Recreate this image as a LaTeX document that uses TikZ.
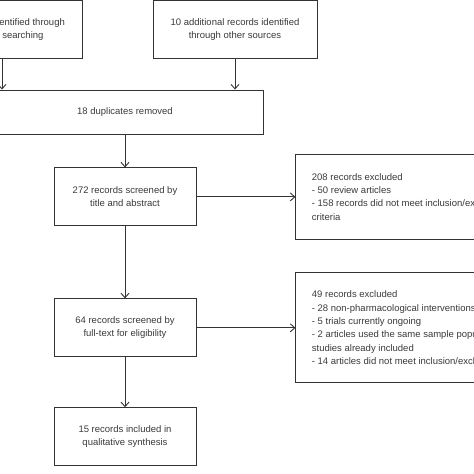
\documentclass[tikz,border=0pt]{standalone}
\usepackage{fontspec}
\setmainfont{Liberation Sans}
\usetikzlibrary{arrows.meta, positioning}
\definecolor{boxline}{HTML}{333333}
\definecolor{boxtext}{HTML}{3A3A3A}

\begin{document}
\begin{tikzpicture}[
			x = 1pt, y = 1pt,
			node distance = 30pt,
			>={Straight Barb[length=4.5pt,width=8pt]},
			block/.style = {draw=boxline, line width=0.9pt, rectangle, minimum height=58pt, minimum width=142pt, align=center, text=boxtext, font=\fontsize{9.5}{13.3}\selectfont, inner sep=0pt},
			srcblock/.style = {block, minimum width=164pt},
			excl/.style = {block, align=left, inner xsep=16pt},
			link/.style = {->, draw=boxline, line width=0.9pt}
			]
			
			\useasboundingbox (0,0) rectangle (474,-474);
			\clip (0,0) rectangle (474,-474);
			
			%% ── Identification ────────────────────────────────────────────
			\node [srcblock, minimum width=160pt] (db)    at (2,-29.5)  {280 records identified through\\database searching};
			\node [srcblock]                      (other) at (235,-29.5) {10 additional records identified\\through other sources};
			\node [block, minimum width=276pt, minimum height=44pt] (dup) at (125,-112) {18 duplicates removed};
			
			%% ── Screening / eligibility ───────────────────────────────────
			\node [block, below=33pt of dup]    (screen) {272 records screened by\\title and abstract};
			\node [block, below=72pt of screen] (full)   {64 records screened by\\full-text for eligibility};
			\node [block, below=50pt of full]   (incl)   {15 records included in\\qualitative synthesis};
			
			% Excluded records
			\node [excl, minimum height=85pt, right=99pt of screen] (excl1)
			{208 records excluded\\- 50 review articles\\- 158 records did not meet inclusion/exclusion\\criteria};
			\node [excl, minimum height=110pt, right=99pt of full] (excl2)
			{49 records excluded\\- 28 non-pharmacological interventions\\- 5 trials currently ongoing\\- 2 articles used the same sample population as\\studies already included\\- 14 articles did not meet inclusion/exclusion criteria};
			
			%% ── Arrows ────────────────────────────────────────────────────
			\draw [link] (db.south)    -- (db.south |- dup.north);
			\draw [link] (other.south) -- (other.south |- dup.north);
			\draw [link] (dup.south -| screen.north) -- (screen.north);
			\draw [link] (screen) -- (full);
			\draw [link] (full)   -- (incl);
			\draw [link] (screen) -- (excl1);
			\draw [link] (full)   -- (excl2);
			
		\end{tikzpicture}
\end{document}
